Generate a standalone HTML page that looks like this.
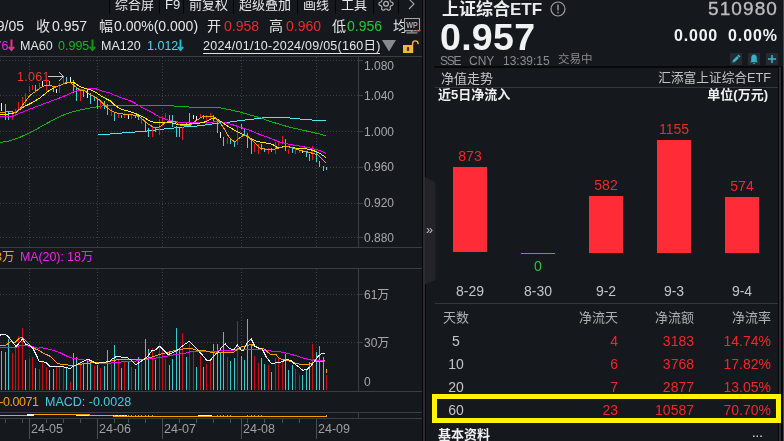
<!DOCTYPE html>
<html><head><meta charset="utf-8">
<style>
*{margin:0;padding:0;box-sizing:border-box}
html,body{width:784px;height:441px;overflow:hidden;background:#15181d}
body{position:relative;font-family:"Liberation Sans","Noto Sans CJK SC",sans-serif;color:#e6e6e6}
.t{position:absolute;white-space:nowrap;line-height:1}
.sep{position:absolute;width:1px;background:#050608}
svg{position:absolute;left:0;top:0}
.ar{font-family:"Noto Sans CJK SC",sans-serif;font-weight:bold;font-size:12px;-webkit-text-stroke:0.6px currentColor} .r{color:#f0282d} .g{color:#1ec83c}
</style></head><body>
<svg width="784" height="441" viewBox="0 0 784 441" shape-rendering="crispEdges">
<line x1="0" y1="60.5" x2="358" y2="60.5" stroke="#3c3f46" stroke-width="1" stroke-dasharray="1 2"/>
<line x1="358" y1="60.5" x2="363" y2="60.5" stroke="#3a3d43" stroke-width="1"/>
<line x1="0" y1="95.5" x2="358" y2="95.5" stroke="#3c3f46" stroke-width="1" stroke-dasharray="1 2"/>
<line x1="358" y1="95.5" x2="363" y2="95.5" stroke="#3a3d43" stroke-width="1"/>
<line x1="0" y1="131.5" x2="358" y2="131.5" stroke="#3c3f46" stroke-width="1" stroke-dasharray="1 2"/>
<line x1="358" y1="131.5" x2="363" y2="131.5" stroke="#3a3d43" stroke-width="1"/>
<line x1="0" y1="167.5" x2="358" y2="167.5" stroke="#3c3f46" stroke-width="1" stroke-dasharray="1 2"/>
<line x1="358" y1="167.5" x2="363" y2="167.5" stroke="#3a3d43" stroke-width="1"/>
<line x1="0" y1="203.5" x2="358" y2="203.5" stroke="#3c3f46" stroke-width="1" stroke-dasharray="1 2"/>
<line x1="358" y1="203.5" x2="363" y2="203.5" stroke="#3a3d43" stroke-width="1"/>
<line x1="0" y1="237.5" x2="358" y2="237.5" stroke="#3c3f46" stroke-width="1" stroke-dasharray="1 2"/>
<line x1="358" y1="237.5" x2="363" y2="237.5" stroke="#3a3d43" stroke-width="1"/>
<line x1="0" y1="294.5" x2="358" y2="294.5" stroke="#3c3f46" stroke-width="1" stroke-dasharray="1 2"/>
<line x1="358" y1="294.5" x2="363" y2="294.5" stroke="#3a3d43" stroke-width="1"/>
<line x1="0" y1="342.5" x2="358" y2="342.5" stroke="#3c3f46" stroke-width="1" stroke-dasharray="1 2"/>
<line x1="358" y1="342.5" x2="363" y2="342.5" stroke="#3a3d43" stroke-width="1"/>
<line x1="29.5" y1="57" x2="29.5" y2="247" stroke="#3c3f46" stroke-width="1" stroke-dasharray="1 2"/>
<line x1="29.5" y1="269" x2="29.5" y2="391" stroke="#3c3f46" stroke-width="1" stroke-dasharray="1 2"/>
<line x1="97.5" y1="57" x2="97.5" y2="247" stroke="#3c3f46" stroke-width="1" stroke-dasharray="1 2"/>
<line x1="97.5" y1="269" x2="97.5" y2="391" stroke="#3c3f46" stroke-width="1" stroke-dasharray="1 2"/>
<line x1="162.5" y1="57" x2="162.5" y2="247" stroke="#3c3f46" stroke-width="1" stroke-dasharray="1 2"/>
<line x1="162.5" y1="269" x2="162.5" y2="391" stroke="#3c3f46" stroke-width="1" stroke-dasharray="1 2"/>
<line x1="241.5" y1="57" x2="241.5" y2="247" stroke="#3c3f46" stroke-width="1" stroke-dasharray="1 2"/>
<line x1="241.5" y1="269" x2="241.5" y2="391" stroke="#3c3f46" stroke-width="1" stroke-dasharray="1 2"/>
<line x1="316.5" y1="57" x2="316.5" y2="247" stroke="#3c3f46" stroke-width="1" stroke-dasharray="1 2"/>
<line x1="316.5" y1="269" x2="316.5" y2="391" stroke="#3c3f46" stroke-width="1" stroke-dasharray="1 2"/>
<polyline points="97.6,134.6 110.0,134.0 115.0,133.7 120.0,133.2 130.0,132.4 140.0,131.6 150.0,130.8 160.0,129.5 170.0,128.4 180.0,127.3 190.0,126.6 200.0,125.7 208.0,124.5 215.0,123.6 220.0,122.8 230.0,122.0 240.0,120.6 250.0,119.5 260.0,118.2 270.0,117.3 280.0,117.3 290.0,118.0 300.0,119.0 310.0,119.9 320.0,120.4 326.0,120.4" fill="none" stroke="#50e6f0" stroke-width="1"/>
<polyline points="0.0,142.6 10.0,140.8 20.0,137.2 30.0,132.6 40.0,127.2 50.0,121.7 60.0,116.3 70.0,112.6 80.0,109.9 90.0,108.0 98.0,106.7 106.0,105.4 137.6,105.1 162.0,105.1 164.6,105.4 190.0,107.1 200.0,107.2 217.0,107.2 227.6,109.3 240.3,112.1 250.0,115.0 260.0,117.7 270.0,121.3 280.0,124.4 290.0,127.3 300.0,129.5 310.0,131.8 320.0,134.0 326.0,135.8" fill="none" stroke="#12b212" stroke-width="1"/>
<rect x="1" y="103" width="1" height="8" fill="#f0f0f0"/>
<rect x="5" y="104" width="1" height="16" fill="#3fd0dc"/>
<rect x="8" y="111" width="1" height="9" fill="#3fd0dc"/>
<rect x="12" y="114" width="1" height="6" fill="#e5161d"/>
<rect x="15" y="109" width="1" height="5" fill="#e5161d"/>
<rect x="18" y="102" width="1" height="9" fill="#e5161d"/>
<rect x="22" y="97" width="1" height="11" fill="#e5161d"/>
<rect x="25" y="93" width="1" height="12" fill="#e5161d"/>
<rect x="29" y="86" width="1" height="6" fill="#e5161d"/>
<rect x="32" y="85" width="1" height="5" fill="#e5161d"/>
<rect x="35" y="85" width="1" height="7" fill="#3fd0dc"/>
<rect x="39" y="83" width="1" height="6" fill="#e5161d"/>
<rect x="42" y="81" width="1" height="5" fill="#f0f0f0"/>
<rect x="46" y="81" width="1" height="10" fill="#e5161d"/>
<rect x="49" y="81" width="1" height="4" fill="#3fd0dc"/>
<rect x="53" y="86" width="1" height="6" fill="#3fd0dc"/>
<rect x="56" y="89" width="1" height="4" fill="#f0f0f0"/>
<rect x="59" y="83" width="1" height="10" fill="#e5161d"/>
<rect x="63" y="76" width="1" height="8" fill="#e5161d"/>
<rect x="66" y="77" width="1" height="5" fill="#3fd0dc"/>
<rect x="70" y="77" width="1" height="5" fill="#f0f0f0"/>
<rect x="73" y="80" width="1" height="13" fill="#3fd0dc"/>
<rect x="76" y="88" width="1" height="13" fill="#3fd0dc"/>
<rect x="80" y="89" width="1" height="12" fill="#e5161d"/>
<rect x="83" y="90" width="1" height="7" fill="#3fd0dc"/>
<rect x="87" y="90" width="1" height="8" fill="#f0f0f0"/>
<rect x="90" y="93" width="1" height="11" fill="#3fd0dc"/>
<rect x="94" y="96" width="1" height="5" fill="#3fd0dc"/>
<rect x="97" y="99" width="1" height="10" fill="#3fd0dc"/>
<rect x="100" y="100" width="1" height="9" fill="#e5161d"/>
<rect x="104" y="101" width="1" height="8" fill="#3fd0dc"/>
<rect x="107" y="104" width="1" height="11" fill="#3fd0dc"/>
<rect x="111" y="108" width="1" height="8" fill="#e5161d"/>
<rect x="114" y="112" width="1" height="9" fill="#3fd0dc"/>
<rect x="118" y="113" width="1" height="5" fill="#e5161d"/>
<rect x="121" y="115" width="1" height="3" fill="#3fd0dc"/>
<rect x="124" y="113" width="1" height="5" fill="#e5161d"/>
<rect x="128" y="114" width="1" height="5" fill="#f0f0f0"/>
<rect x="131" y="114" width="1" height="5" fill="#e5161d"/>
<rect x="135" y="115" width="1" height="3" fill="#3fd0dc"/>
<rect x="138" y="114" width="1" height="6" fill="#3fd0dc"/>
<rect x="141" y="117" width="1" height="7" fill="#e5161d"/>
<rect x="145" y="122" width="1" height="9" fill="#3fd0dc"/>
<rect x="148" y="128" width="1" height="9" fill="#3fd0dc"/>
<rect x="152" y="126" width="1" height="11" fill="#e5161d"/>
<rect x="155" y="128" width="1" height="4" fill="#3fd0dc"/>
<rect x="159" y="119" width="1" height="16" fill="#e5161d"/>
<rect x="162" y="116" width="1" height="10" fill="#e5161d"/>
<rect x="165" y="113" width="1" height="5" fill="#e5161d"/>
<rect x="169" y="115" width="1" height="5" fill="#3fd0dc"/>
<rect x="172" y="115" width="1" height="12" fill="#3fd0dc"/>
<rect x="176" y="126" width="1" height="11" fill="#3fd0dc"/>
<rect x="179" y="128" width="1" height="9" fill="#3fd0dc"/>
<rect x="182" y="127" width="1" height="13" fill="#e5161d"/>
<rect x="186" y="123" width="1" height="4" fill="#3fd0dc"/>
<rect x="189" y="113" width="1" height="11" fill="#3fd0dc"/>
<rect x="193" y="115" width="1" height="4" fill="#f0f0f0"/>
<rect x="196" y="116" width="1" height="4" fill="#f0f0f0"/>
<rect x="200" y="114" width="1" height="4" fill="#e5161d"/>
<rect x="203" y="115" width="1" height="4" fill="#3fd0dc"/>
<rect x="206" y="115" width="1" height="9" fill="#e5161d"/>
<rect x="210" y="113" width="1" height="6" fill="#e5161d"/>
<rect x="213" y="115" width="1" height="6" fill="#3fd0dc"/>
<rect x="217" y="120" width="1" height="13" fill="#3fd0dc"/>
<rect x="220" y="132" width="1" height="6" fill="#f0f0f0"/>
<rect x="223" y="137" width="1" height="9" fill="#3fd0dc"/>
<rect x="227" y="138" width="1" height="6" fill="#e5161d"/>
<rect x="230" y="139" width="1" height="5" fill="#3fd0dc"/>
<rect x="234" y="142" width="1" height="5" fill="#3fd0dc"/>
<rect x="237" y="127" width="1" height="18" fill="#e5161d"/>
<rect x="241" y="124" width="1" height="5" fill="#3fd0dc"/>
<rect x="244" y="129" width="1" height="7" fill="#3fd0dc"/>
<rect x="247" y="133" width="1" height="15" fill="#3fd0dc"/>
<rect x="251" y="141" width="1" height="13" fill="#3fd0dc"/>
<rect x="254" y="144" width="1" height="8" fill="#e5161d"/>
<rect x="258" y="144" width="1" height="10" fill="#e5161d"/>
<rect x="261" y="144" width="1" height="6" fill="#3fd0dc"/>
<rect x="264" y="148" width="1" height="4" fill="#3fd0dc"/>
<rect x="268" y="148" width="1" height="6" fill="#e5161d"/>
<rect x="271" y="148" width="1" height="4" fill="#3fd0dc"/>
<rect x="275" y="142" width="1" height="12" fill="#e5161d"/>
<rect x="278" y="142" width="1" height="4" fill="#e5161d"/>
<rect x="282" y="136" width="1" height="8" fill="#e5161d"/>
<rect x="285" y="139" width="1" height="12" fill="#3fd0dc"/>
<rect x="288" y="149" width="1" height="5" fill="#e5161d"/>
<rect x="292" y="148" width="1" height="5" fill="#3fd0dc"/>
<rect x="295" y="149" width="1" height="5" fill="#e5161d"/>
<rect x="299" y="150" width="1" height="3" fill="#e5161d"/>
<rect x="302" y="151" width="1" height="2" fill="#f0f0f0"/>
<rect x="306" y="152" width="1" height="5" fill="#3fd0dc"/>
<rect x="309" y="154" width="1" height="7" fill="#3fd0dc"/>
<rect x="312" y="146" width="1" height="14" fill="#e5161d"/>
<rect x="316" y="152" width="1" height="10" fill="#3fd0dc"/>
<rect x="319" y="161" width="1" height="6" fill="#3fd0dc"/>
<rect x="323" y="166" width="1" height="5" fill="#3fd0dc"/>
<rect x="326" y="167" width="1" height="3" fill="#3fd0dc"/>
<polyline points="0.0,116.8 11.9,116.8 15.9,114.8 23.8,111.6 31.7,108.4 47.6,102.4 63.5,96.5 74.6,91.3 85.7,88.6 94.8,88.3 99.5,90.3 109.0,92.7 120.2,97.5 129.7,100.6 136.0,103.8 144.0,108.6 153.5,113.3 159.8,117.3 169.4,120.5 178.9,122.1 190.0,122.5 200.0,122.3 210.0,122.1 220.0,121.8 227.0,123.1 232.0,124.5 240.0,127.2 250.0,130.4 260.0,134.6 270.0,138.2 280.0,142.2 290.0,144.4 300.0,146.2 310.0,148.0 320.0,150.4 326.0,153.4" fill="none" stroke="#f000f0" stroke-width="1"/>
<polyline points="0.0,114.5 10.0,113.9 15.9,112.4 23.8,106.8 31.7,102.9 39.7,98.1 47.6,91.7 52.4,88.6 63.5,83.8 69.8,82.2 74.6,83.0 80.0,86.6 85.0,88.5 90.0,89.6 95.0,91.8 100.0,95.2 105.0,98.2 110.0,100.7 115.0,105.4 120.0,108.6 125.0,110.2 130.0,111.7 135.0,113.3 140.0,115.7 145.0,118.1 150.0,121.0 155.0,122.5 160.0,122.9 165.0,122.5 170.0,122.5 175.0,123.7 180.0,124.9 185.0,124.9 190.0,124.0 195.0,123.5 200.0,123.0 205.4,121.8 211.0,119.0 214.0,118.2 218.1,119.6 222.0,122.2 228.0,126.4 236.0,131.0 244.8,135.4 249.5,137.8 255.9,141.0 262.2,142.5 268.6,143.3 273.3,144.9 278.1,148.1 282.9,146.8 289.2,146.8 295.6,148.1 303.5,148.6 309.8,149.4 316.2,151.6 321.0,154.1 325.7,157.3" fill="none" stroke="#f8f000" stroke-width="1"/>
<polyline points="0.0,112.6 10.0,111.4 15.0,112.6 20.0,109.0 25.0,101.8 30.0,95.4 35.0,91.8 40.0,88.1 45.0,85.4 50.0,85.4 55.0,87.2 60.0,85.4 65.0,83.0 70.0,82.3 75.0,86.3 80.0,90.0 85.0,90.9 90.0,94.5 95.0,96.9 100.0,100.3 105.0,105.4 110.0,110.2 115.0,112.5 120.0,113.8 125.0,114.1 130.0,114.6 135.0,115.2 140.0,116.8 145.0,121.6 150.0,125.2 155.0,128.1 160.0,126.8 165.0,122.9 170.0,121.0 175.0,121.6 180.0,125.2 185.0,125.7 190.0,125.4 195.0,121.3 200.0,118.2 203.0,116.3 210.0,116.3 214.0,116.8 217.0,119.5 220.0,122.7 225.0,130.0 228.0,135.6 231.4,139.4 234.5,141.8 236.8,140.4 240.2,137.3 244.3,135.0 248.0,136.7 252.7,141.0 255.0,143.1 260.0,148.0 265.0,149.1 270.0,149.4 275.0,149.1 280.0,147.6 285.0,146.7 290.0,147.1 296.8,149.4 301.3,150.5 305.9,151.6 312.7,153.3 317.2,154.5 320.6,157.9 325.7,162.4" fill="none" stroke="#f8a000" stroke-width="1"/>
<line x1="48" y1="76.5" x2="64" y2="76.5" stroke="#c8c8c8" stroke-width="1"/>
<polyline points="59,72 63.5,76.5 59,81" fill="none" stroke="#c8c8c8" stroke-width="1" shape-rendering="auto"/>
<rect x="1" y="351" width="1" height="39" fill="#3cc8d2"/>
<rect x="5" y="352" width="1" height="38" fill="#3cc8d2"/>
<rect x="8" y="339" width="1" height="51" fill="#3cc8d2"/>
<rect x="12" y="353" width="1" height="37" fill="#c80f14"/>
<rect x="15" y="348" width="1" height="42" fill="#c80f14"/>
<rect x="18" y="336" width="1" height="54" fill="#c80f14"/>
<rect x="22" y="328" width="1" height="62" fill="#c80f14"/>
<rect x="25" y="360" width="1" height="30" fill="#3cc8d2"/>
<rect x="29" y="358" width="1" height="32" fill="#c80f14"/>
<rect x="32" y="357" width="1" height="33" fill="#c80f14"/>
<rect x="35" y="368" width="1" height="22" fill="#3cc8d2"/>
<rect x="39" y="369" width="1" height="21" fill="#c80f14"/>
<rect x="42" y="362" width="1" height="28" fill="#c80f14"/>
<rect x="46" y="367" width="1" height="23" fill="#c80f14"/>
<rect x="49" y="370" width="1" height="20" fill="#3cc8d2"/>
<rect x="53" y="369" width="1" height="21" fill="#3cc8d2"/>
<rect x="56" y="366" width="1" height="24" fill="#c80f14"/>
<rect x="59" y="367" width="1" height="23" fill="#c80f14"/>
<rect x="63" y="366" width="1" height="24" fill="#c80f14"/>
<rect x="66" y="367" width="1" height="23" fill="#3cc8d2"/>
<rect x="70" y="382" width="1" height="8" fill="#c80f14"/>
<rect x="73" y="353" width="1" height="37" fill="#3cc8d2"/>
<rect x="76" y="357" width="1" height="33" fill="#3cc8d2"/>
<rect x="80" y="362" width="1" height="28" fill="#c80f14"/>
<rect x="83" y="364" width="1" height="26" fill="#3cc8d2"/>
<rect x="87" y="359" width="1" height="31" fill="#3cc8d2"/>
<rect x="90" y="360" width="1" height="30" fill="#3cc8d2"/>
<rect x="94" y="366" width="1" height="24" fill="#c80f14"/>
<rect x="97" y="365" width="1" height="25" fill="#3cc8d2"/>
<rect x="100" y="368" width="1" height="22" fill="#c80f14"/>
<rect x="104" y="366" width="1" height="24" fill="#3cc8d2"/>
<rect x="107" y="350" width="1" height="40" fill="#3cc8d2"/>
<rect x="111" y="364" width="1" height="26" fill="#c80f14"/>
<rect x="114" y="345" width="1" height="45" fill="#3cc8d2"/>
<rect x="118" y="359" width="1" height="31" fill="#c80f14"/>
<rect x="121" y="368" width="1" height="22" fill="#3cc8d2"/>
<rect x="124" y="362" width="1" height="28" fill="#c80f14"/>
<rect x="128" y="362" width="1" height="28" fill="#3cc8d2"/>
<rect x="131" y="367" width="1" height="23" fill="#c80f14"/>
<rect x="135" y="369" width="1" height="21" fill="#3cc8d2"/>
<rect x="138" y="357" width="1" height="33" fill="#3cc8d2"/>
<rect x="141" y="363" width="1" height="27" fill="#c80f14"/>
<rect x="145" y="339" width="1" height="51" fill="#3cc8d2"/>
<rect x="148" y="349" width="1" height="41" fill="#3cc8d2"/>
<rect x="152" y="348" width="1" height="42" fill="#c80f14"/>
<rect x="155" y="360" width="1" height="30" fill="#3cc8d2"/>
<rect x="159" y="342" width="1" height="48" fill="#c80f14"/>
<rect x="162" y="350" width="1" height="40" fill="#c80f14"/>
<rect x="165" y="359" width="1" height="31" fill="#c80f14"/>
<rect x="169" y="365" width="1" height="25" fill="#3cc8d2"/>
<rect x="172" y="359" width="1" height="31" fill="#3cc8d2"/>
<rect x="176" y="328" width="1" height="62" fill="#3cc8d2"/>
<rect x="179" y="348" width="1" height="42" fill="#3cc8d2"/>
<rect x="182" y="333" width="1" height="57" fill="#c80f14"/>
<rect x="186" y="357" width="1" height="33" fill="#3cc8d2"/>
<rect x="189" y="344" width="1" height="46" fill="#c80f14"/>
<rect x="193" y="352" width="1" height="38" fill="#c80f14"/>
<rect x="196" y="367" width="1" height="23" fill="#3cc8d2"/>
<rect x="200" y="356" width="1" height="34" fill="#c80f14"/>
<rect x="203" y="367" width="1" height="23" fill="#3cc8d2"/>
<rect x="206" y="364" width="1" height="26" fill="#c80f14"/>
<rect x="210" y="359" width="1" height="31" fill="#c80f14"/>
<rect x="213" y="344" width="1" height="46" fill="#3cc8d2"/>
<rect x="217" y="344" width="1" height="46" fill="#3cc8d2"/>
<rect x="220" y="353" width="1" height="37" fill="#3cc8d2"/>
<rect x="223" y="332" width="1" height="58" fill="#3cc8d2"/>
<rect x="227" y="357" width="1" height="33" fill="#c80f14"/>
<rect x="230" y="361" width="1" height="29" fill="#3cc8d2"/>
<rect x="234" y="358" width="1" height="32" fill="#3cc8d2"/>
<rect x="237" y="321" width="1" height="69" fill="#c80f14"/>
<rect x="241" y="356" width="1" height="34" fill="#3cc8d2"/>
<rect x="244" y="360" width="1" height="30" fill="#3cc8d2"/>
<rect x="247" y="319" width="1" height="71" fill="#3cc8d2"/>
<rect x="251" y="344" width="1" height="46" fill="#3cc8d2"/>
<rect x="254" y="356" width="1" height="34" fill="#c80f14"/>
<rect x="258" y="363" width="1" height="27" fill="#c80f14"/>
<rect x="261" y="358" width="1" height="32" fill="#3cc8d2"/>
<rect x="264" y="364" width="1" height="26" fill="#3cc8d2"/>
<rect x="268" y="365" width="1" height="25" fill="#c80f14"/>
<rect x="271" y="372" width="1" height="18" fill="#3cc8d2"/>
<rect x="275" y="358" width="1" height="32" fill="#c80f14"/>
<rect x="278" y="357" width="1" height="33" fill="#c80f14"/>
<rect x="282" y="362" width="1" height="28" fill="#c80f14"/>
<rect x="285" y="354" width="1" height="36" fill="#3cc8d2"/>
<rect x="288" y="370" width="1" height="20" fill="#3cc8d2"/>
<rect x="292" y="365" width="1" height="25" fill="#3cc8d2"/>
<rect x="295" y="369" width="1" height="21" fill="#c80f14"/>
<rect x="299" y="375" width="1" height="15" fill="#c80f14"/>
<rect x="302" y="375" width="1" height="15" fill="#3cc8d2"/>
<rect x="306" y="369" width="1" height="21" fill="#3cc8d2"/>
<rect x="309" y="362" width="1" height="28" fill="#3cc8d2"/>
<rect x="312" y="344" width="1" height="46" fill="#c80f14"/>
<rect x="316" y="352" width="1" height="38" fill="#3cc8d2"/>
<rect x="319" y="346" width="1" height="44" fill="#3cc8d2"/>
<rect x="323" y="357" width="1" height="33" fill="#3cc8d2"/>
<rect x="326" y="375" width="1" height="15" fill="#c80f14"/>
<rect x="326" y="369" width="1" height="4" fill="#f8a000"/>
<polyline points="0.0,347.4 15.9,347.4 20.4,345.6 23.8,345.6 28.3,346.0 32.9,346.5 37.4,348.2 42.0,347.7 46.5,348.8 50.0,349.4 60.0,352.7 66.5,356.0 73.0,358.4 79.6,359.2 86.0,360.5 92.7,362.4 100.0,363.8 106.0,363.8 112.0,362.8 120.0,362.1 128.7,361.1 136.0,361.1 141.0,359.8 150.6,358.7 160.0,357.4 168.0,356.1 175.4,354.6 182.9,353.7 190.3,351.8 197.7,351.3 208.0,351.5 215.0,351.3 224.4,350.0 233.7,350.0 244.0,349.7 251.2,349.4 258.6,349.4 269.7,350.9 276.0,351.3 283.4,352.4 290.9,354.2 298.3,356.5 305.7,358.7 312.0,360.2 314.9,359.8 318.6,360.6 325.0,361.1" fill="none" stroke="#f000f0" stroke-width="1"/>
<polyline points="0.0,345.4 5.7,345.4 8.5,343.1 11.3,341.4 14.7,342.6 18.7,338.6 22.1,336.9 24.9,339.7 28.9,343.7 32.9,347.7 36.3,349.4 39.7,350.5 43.1,353.3 46.5,354.5 50.0,356.2 57.8,363.8 64.0,364.5 73.0,365.7 79.6,364.4 86.0,363.3 92.7,362.8 104.0,362.8 112.0,360.8 119.0,359.5 127.0,359.5 136.0,360.0 141.3,359.8 150.6,357.4 160.0,354.2 168.0,352.4 175.4,350.5 182.9,349.0 190.3,348.1 195.9,350.0 204.0,350.5 215.0,353.1 224.4,352.4 233.7,352.4 237.5,349.0 240.0,347.2 247.4,345.3 251.2,344.4 258.6,348.1 264.2,349.0 270.7,354.6 276.0,354.6 279.7,358.7 287.2,360.2 294.6,363.0 302.0,364.8 307.4,364.8 312.0,363.0 314.9,361.7 318.6,362.0 325.0,360.6" fill="none" stroke="#f8a000" stroke-width="1"/>
<polyline points="0.0,335.2 2.3,334.1 5.1,334.6 7.9,336.3 11.3,340.3 15.9,346.5 18.7,343.7 22.7,338.8 25.5,344.3 29.5,345.4 32.9,348.2 36.3,355.0 39.1,361.3 43.1,361.8 46.5,363.0 50.0,366.4 56.0,366.0 60.0,366.5 66.5,367.3 70.0,368.7 73.0,366.5 79.6,363.3 87.8,359.2 92.7,361.6 96.0,363.3 104.0,362.4 109.0,361.6 113.0,358.4 117.0,356.2 122.0,357.2 127.0,357.6 131.0,360.0 135.7,364.8 141.3,361.1 146.9,357.4 152.4,350.0 155.2,350.0 159.5,346.2 163.6,350.0 168.0,354.6 171.7,353.1 176.4,350.9 181.0,347.2 184.7,344.4 189.4,341.2 194.0,346.2 198.7,350.9 203.3,356.1 206.8,360.6 210.5,360.2 214.2,355.5 218.0,352.8 221.7,347.2 225.4,344.0 229.0,348.1 233.7,350.0 237.5,345.0 241.2,350.0 243.7,350.0 247.4,342.5 251.2,338.8 254.9,346.2 258.6,348.1 262.3,349.0 266.0,356.5 271.6,363.9 275.3,363.0 279.7,362.4 283.4,361.1 287.2,359.3 290.9,360.6 294.6,363.9 298.3,366.7 303.0,370.4 307.4,369.1 311.2,365.8 314.9,360.6 317.7,356.8 321.4,353.7 325.0,353.7" fill="none" stroke="#f0f0f0" stroke-width="1"/>
<polyline points="0,415.5 27,415.5 27,414.5 89,414.5 89,415.5 113,415.5 113,416.5 327,416.5" fill="none" stroke="#f8a000" stroke-width="1"/>
<rect x="27" y="414" width="7" height="2" fill="#f0f0f0"/>
<rect x="76" y="414.5" width="13" height="1.5" fill="#f0f0f0"/>
<rect x="113" y="415" width="14" height="1" fill="#f0f0f0"/>
<rect x="198" y="415" width="14" height="1" fill="#f0f0f0"/>
<rect x="90" y="415" width="1" height="1" fill="#3fd0dc"/>
<rect x="94" y="415" width="1" height="1" fill="#3fd0dc"/>
<rect x="97" y="415" width="1" height="1" fill="#3fd0dc"/>
<rect x="100" y="415" width="1" height="1" fill="#3fd0dc"/>
<rect x="104" y="415" width="1" height="1" fill="#3fd0dc"/>
<rect x="107" y="415" width="1" height="1" fill="#3fd0dc"/>
<rect x="111" y="415" width="1" height="1" fill="#3fd0dc"/>
<rect x="114" y="415" width="1" height="1" fill="#3fd0dc"/>
<rect x="118" y="415" width="1" height="1" fill="#3fd0dc"/>
<rect x="121" y="415" width="1" height="1" fill="#3fd0dc"/>
<rect x="124" y="415" width="1" height="1" fill="#3fd0dc"/>
<rect x="128" y="415" width="1" height="1" fill="#3fd0dc"/>
<rect x="131" y="415" width="1" height="1" fill="#3fd0dc"/>
<rect x="135" y="415" width="1" height="1" fill="#3fd0dc"/>
<rect x="138" y="415" width="1" height="1" fill="#3fd0dc"/>
<rect x="141" y="415" width="1" height="1" fill="#3fd0dc"/>
<rect x="145" y="415" width="1" height="1" fill="#3fd0dc"/>
<rect x="148" y="415" width="1" height="1" fill="#3fd0dc"/>
<rect x="152" y="415" width="1" height="1" fill="#3fd0dc"/>
<rect x="217" y="415" width="1" height="1" fill="#3fd0dc"/>
<rect x="220" y="415" width="1" height="1" fill="#3fd0dc"/>
<rect x="223" y="415" width="1" height="1" fill="#3fd0dc"/>
<rect x="227" y="415" width="1" height="1" fill="#3fd0dc"/>
<rect x="230" y="415" width="1" height="1" fill="#3fd0dc"/>
<rect x="247" y="415" width="1" height="1" fill="#3fd0dc"/>
<rect x="251" y="415" width="1" height="1" fill="#3fd0dc"/>
<rect x="254" y="415" width="1" height="1" fill="#3fd0dc"/>
<rect x="258" y="415" width="1" height="1" fill="#3fd0dc"/>
<rect x="261" y="415" width="1" height="1" fill="#3fd0dc"/>
<rect x="326" y="415" width="1" height="1" fill="#3fd0dc"/>
<line x1="358.5" y1="57" x2="358.5" y2="247" stroke="#3a3d43"/>
<line x1="358.5" y1="269" x2="358.5" y2="391" stroke="#3a3d43"/>
<line x1="358.5" y1="412" x2="358.5" y2="418" stroke="#3a3d43"/>
<line x1="0" y1="56.5" x2="422" y2="56.5" stroke="#3a3d43"/>
<line x1="0" y1="247.5" x2="422" y2="247.5" stroke="#3a3d43"/>
<line x1="0" y1="268.5" x2="422" y2="268.5" stroke="#3a3d43"/>
<line x1="0" y1="391.5" x2="422" y2="391.5" stroke="#3a3d43"/>
<line x1="0" y1="412.5" x2="422" y2="412.5" stroke="#3a3d43"/>
<line x1="0" y1="418.5" x2="422" y2="418.5" stroke="#3a3d43"/>
<line x1="5.5" y1="419" x2="5.5" y2="423" stroke="#4a4d54"/>
<line x1="22.5" y1="419" x2="22.5" y2="423" stroke="#4a4d54"/>
<line x1="46.5" y1="419" x2="46.5" y2="423" stroke="#4a4d54"/>
<line x1="63.5" y1="419" x2="63.5" y2="423" stroke="#4a4d54"/>
<line x1="80.5" y1="419" x2="80.5" y2="423" stroke="#4a4d54"/>
<line x1="114.5" y1="419" x2="114.5" y2="423" stroke="#4a4d54"/>
<line x1="128.5" y1="419" x2="128.5" y2="423" stroke="#4a4d54"/>
<line x1="145.5" y1="419" x2="145.5" y2="423" stroke="#4a4d54"/>
<line x1="179.5" y1="419" x2="179.5" y2="423" stroke="#4a4d54"/>
<line x1="196.5" y1="419" x2="196.5" y2="423" stroke="#4a4d54"/>
<line x1="213.5" y1="419" x2="213.5" y2="423" stroke="#4a4d54"/>
<line x1="230.5" y1="419" x2="230.5" y2="423" stroke="#4a4d54"/>
<line x1="247.5" y1="419" x2="247.5" y2="423" stroke="#4a4d54"/>
<line x1="264.5" y1="419" x2="264.5" y2="423" stroke="#4a4d54"/>
<line x1="282.5" y1="419" x2="282.5" y2="423" stroke="#4a4d54"/>
<line x1="299.5" y1="419" x2="299.5" y2="423" stroke="#4a4d54"/>
<line x1="29.5" y1="419" x2="29.5" y2="439" stroke="#4a4d54"/>
<line x1="97.5" y1="419" x2="97.5" y2="439" stroke="#4a4d54"/>
<line x1="162.5" y1="419" x2="162.5" y2="439" stroke="#4a4d54"/>
<line x1="241.5" y1="419" x2="241.5" y2="439" stroke="#4a4d54"/>
<line x1="316.5" y1="419" x2="316.5" y2="439" stroke="#4a4d54"/>
</svg>
<!-- toolbar -->
<div class="sep" style="left:109px;top:0;height:14px"></div>
<div class="sep" style="left:159px;top:0;height:14px"></div>
<div class="sep" style="left:183px;top:0;height:14px"></div>
<div class="sep" style="left:233px;top:0;height:14px"></div>
<div class="sep" style="left:297px;top:0;height:14px"></div>
<div class="sep" style="left:335px;top:0;height:14px"></div>
<div class="sep" style="left:373px;top:0;height:14px"></div>
<div class="sep" style="left:398px;top:0;height:14px"></div>
<div class="t" style="left:115px;top:-2px;font-size:13px">综合屏</div>
<div class="t" style="left:165px;top:-2px;font-size:13px">F9</div>
<div class="t" style="left:189px;top:-2px;font-size:13px">前复权</div>
<div class="t" style="left:239px;top:-2px;font-size:13px">超级叠加</div>
<div class="t" style="left:303px;top:-2px;font-size:13px">画线</div>
<div class="t" style="left:341px;top:-2px;font-size:13px">工具</div>

<!-- toolbar icons -->
<svg width="20" height="14" style="left:377px;top:0" viewBox="0 0 20 14"><polygon points="16.00,3.80 15.97,4.41 15.72,4.98 14.89,5.38 14.06,5.64 13.71,6.00 13.50,6.40 13.26,6.78 13.12,7.26 13.31,8.11 13.38,9.02 13.02,9.53 12.50,9.86 11.96,10.14 11.33,10.21 10.58,9.69 9.93,9.10 9.45,8.98 9.00,9.00 8.55,8.98 8.07,9.10 7.42,9.69 6.67,10.21 6.04,10.14 5.50,9.86 4.98,9.53 4.62,9.02 4.69,8.11 4.88,7.26 4.74,6.78 4.50,6.40 4.29,6.00 3.94,5.64 3.11,5.38 2.28,4.98 2.03,4.41 2.00,3.80 2.03,3.19 2.28,2.62 3.11,2.22 3.94,1.96 4.29,1.60 4.50,1.20 4.74,0.82 4.88,0.34 4.69,-0.51 4.62,-1.42 4.98,-1.93 5.50,-2.26 6.04,-2.54 6.67,-2.61 7.42,-2.09 8.07,-1.50 8.55,-1.38 9.00,-1.40 9.45,-1.38 9.93,-1.50 10.58,-2.09 11.33,-2.61 11.96,-2.54 12.50,-2.26 13.02,-1.93 13.38,-1.42 13.31,-0.51 13.12,0.34 13.26,0.82 13.50,1.20 13.71,1.60 14.06,1.96 14.89,2.22 15.72,2.62 15.97,3.19" fill="none" stroke="#b0b0b0" stroke-width="1.2" stroke-linejoin="round"/><circle cx="9.0" cy="3.8" r="2.4" fill="none" stroke="#b0b0b0" stroke-width="1.3"/></svg>
<svg width="10" height="12" style="left:407px;top:0" viewBox="0 0 10 12"><polyline points="2,-1 7,4 2,9" fill="none" stroke="#a8a8a8" stroke-width="1.1"/></svg>
<!-- WP icon -->
<svg width="18" height="17" style="left:404px;top:17.5px;z-index:2" viewBox="0 0 18 17"><rect x="0.5" y="0.5" width="15" height="12" fill="#15181d" stroke="#a4a4a4" stroke-width="1.1"/><text x="8" y="10" font-family="Liberation Sans" font-weight="bold" font-size="8.2" textLength="11.5" lengthAdjust="spacingAndGlyphs" fill="#a8a8a8" text-anchor="middle">WP</text><rect x="0" y="12" width="16" height="1.3" fill="#9c9c9c"/><rect x="6.8" y="13" width="1.6" height="1.5" fill="#9c9c9c"/><rect x="2.5" y="14.3" width="11" height="1.2" fill="#9c9c9c"/><rect x="9" y="12.3" width="1.5" height="1.2" fill="#e02020"/><rect x="12.2" y="12.3" width="1.5" height="1.2" fill="#e02020"/><rect x="15.3" y="11.8" width="1.5" height="1.4" fill="#e02020"/></svg>
<!-- dropdown + lock -->
<svg width="16" height="13" style="left:381px;top:39px" viewBox="0 0 16 13"><polygon points="1,1 15,1 8,12.4" fill="#8a8a8a"/></svg>
<svg width="18" height="15" style="left:402px;top:39px" viewBox="0 0 18 15"><path d="M10.6,6 L10.6,4.6 A2.75,2.75 0 0 1 16.1,4.6 L16.1,5.2" fill="none" stroke="#f2b63e" stroke-width="1.4"/><rect x="1" y="6" width="10.2" height="8" fill="#f2b63e"/><rect x="4.9" y="8" width="2.3" height="4" rx="0.8" fill="#4a3a12"/></svg>
<!-- row2 -->
<div class="t" style="right:760px;top:19px;font-size:14px">2024/09/05</div>
<div class="t" style="left:36px;top:19px;font-size:14px">收</div>
<div class="t" style="left:52px;top:19px;font-size:14px">0.957</div>
<div class="t" style="left:99px;top:19px;font-size:14px">幅</div>
<div class="t" style="left:114px;top:19px;font-size:14px">0.00%(0.000)</div>
<div class="t" style="left:207px;top:19px;font-size:14px">开</div>
<div class="t r" style="left:224px;top:19px;font-size:14px">0.958</div>
<div class="t" style="left:269px;top:19px;font-size:14px">高</div>
<div class="t r" style="left:286px;top:19px;font-size:14px">0.960</div>
<div class="t" style="left:332px;top:19px;font-size:14px">低</div>
<div class="t g" style="left:347px;top:19px;font-size:14px">0.956</div>
<div class="t" style="left:393px;top:19px;font-size:14px">均</div>
<!-- row3 -->
<div class="t" style="right:775.5px;top:40px;font-size:12.5px;color:#f020f0">MA20 0.976</div>
<div class="t ar" style="left:5.5px;top:38.5px;color:#ff2a8a">↓</div>
<div class="t" style="left:20px;top:40px;font-size:12.5px">MA60</div>
<div class="t" style="left:58px;top:40px;font-size:12.5px;color:#16b816">0.995</div>
<div class="t ar" style="left:86.5px;top:38.5px;color:#0e9a0e">↓</div>
<div class="t" style="left:101px;top:40px;font-size:12.5px">MA120</div>
<div class="t" style="left:147px;top:40px;font-size:12.5px;color:#48d8e8">1.012</div>
<div class="t ar" style="left:174.5px;top:38.5px;color:#2ab8c8">↓</div>
<div class="t" style="left:203px;top:40px;font-size:12.5px;letter-spacing:0.25px">2024/01/10-2024/09/05(160日)</div><div style="position:absolute;left:203px;top:53px;width:177px;height:1px;background:#e0e0e0"></div>
<!-- price axis -->
<div class="t" style="left:364px;top:60px;font-size:12px;color:#a8a8a8">1.080</div>
<div class="t" style="left:364px;top:90px;font-size:12px;color:#a8a8a8">1.040</div>
<div class="t" style="left:364px;top:126px;font-size:12px;color:#a8a8a8">1.000</div>
<div class="t" style="left:364px;top:161px;font-size:12px;color:#a8a8a8">0.960</div>
<div class="t" style="left:364px;top:197px;font-size:12px;color:#a8a8a8">0.920</div>
<div class="t" style="left:364px;top:232px;font-size:12px;color:#a8a8a8">0.880</div>
<div class="t" style="left:364px;top:289px;font-size:12px;color:#a8a8a8">61万</div>
<div class="t" style="left:364px;top:337px;font-size:12px;color:#a8a8a8">30万</div>
<div class="t" style="left:364px;top:376px;font-size:12px;color:#a8a8a8">0</div>
<div class="t" style="left:17px;top:71px;font-size:12.5px;letter-spacing:0.3px;color:#ee3434">1.061</div>
<!-- volume header -->
<div class="t" style="right:769.5px;top:251px;font-size:12.5px;color:#f0a020">MA(5): 13万</div>
<div class="t" style="left:20px;top:251px;font-size:12.5px;letter-spacing:-0.1px;color:#f020f0">MA(20): 18万</div>
<!-- macd header -->
<div class="t" style="right:745.5px;top:396px;font-size:12.5px;letter-spacing:-0.45px;color:#f5a010">DEA: -0.0071</div>
<div class="t" style="left:45px;top:396px;font-size:12.5px;color:#3ad0e0">MACD: -0.0028</div>
<!-- dates -->
<div class="t" style="left:31px;top:423px;font-size:12.5px;color:#a0a0a0">24-05</div>
<div class="t" style="left:99px;top:423px;font-size:12.5px;color:#a0a0a0">24-06</div>
<div class="t" style="left:164px;top:423px;font-size:12.5px;color:#a0a0a0">24-07</div>
<div class="t" style="left:243px;top:423px;font-size:12.5px;color:#a0a0a0">24-08</div>
<div class="t" style="left:318px;top:423px;font-size:12.5px;color:#a0a0a0">24-09</div>

<!-- divider -->
<div style="position:absolute;left:422px;top:0;width:1px;height:441px;background:#050608"></div>
<div style="position:absolute;left:423px;top:0;width:2px;height:441px;background:#2c2c32"></div>
<div style="position:absolute;left:425px;top:0;width:1px;height:441px;background:#050608"></div>
<svg width="12" height="110" style="left:425px;top:176px" viewBox="0 0 12 110"><polygon points="0,1 10.5,6 10.5,104 0,108.5" fill="#232328"/></svg>
<div class="t" style="left:426px;top:224px;font-size:12.5px;color:#c0c0c0">»</div>
<!-- right panel -->
<div class="t" style="left:442px;top:1px;font-size:17px;font-weight:bold;color:#ececec">上证综合ETF</div>
<svg width="16" height="16" style="left:550px;top:1px" viewBox="0 0 16 16"><circle cx="8" cy="8" r="7" fill="none" stroke="#a0a0a0" stroke-width="1.2"/><rect x="7.3" y="3.5" width="1.4" height="6" fill="#a0a0a0"/><rect x="7.3" y="10.8" width="1.4" height="1.5" fill="#a0a0a0"/></svg>
<div class="t" style="right:6px;top:-1px;font-size:19px;letter-spacing:1.1px;color:#bcbcbc;-webkit-text-stroke:0.35px #bcbcbc">510980</div>
<div class="t" style="left:440px;top:18.8px;font-size:37.5px;letter-spacing:0.3px;font-weight:bold;color:#f2f2f2">0.957</div>
<div class="t" style="left:674px;top:28px;font-size:16px;letter-spacing:0.8px;font-weight:bold;color:#f2f2f2">0.000</div><div class="t" style="left:728px;top:28px;font-size:16px;letter-spacing:0.9px;font-weight:bold;color:#f2f2f2">0.00%</div>
<div class="t" style="left:440px;top:54.5px;font-size:12px;letter-spacing:-1.2px;color:#8c8c8c">SSE</div><div class="t" style="left:469px;top:54.5px;font-size:12px;color:#8c8c8c">CNY</div><div class="t" style="left:503px;top:54.5px;font-size:12px;color:#8c8c8c">13:39:15</div><div class="t" style="left:558px;top:54px;font-size:11.5px;color:#8c8c8c">交易中</div>
<div style="position:absolute;left:730px;top:53px;width:12px;height:12px;background:#262a30"></div>
<div style="position:absolute;left:748px;top:53px;width:12px;height:12px;background:#262a30"></div>
<div style="position:absolute;left:766px;top:53px;width:12px;height:12px;background:#262a30"></div>
<svg width="12" height="12" style="left:730px;top:53px" viewBox="0 0 12 12"><g transform="rotate(45 6 6)"><rect x="4.7" y="3.2" width="2.6" height="6.2" fill="#38b8cc"/><polygon points="4.7,9.4 7.3,9.4 6,11" fill="#38b8cc"/><rect x="4.7" y="1" width="2.6" height="1.6" fill="#38b8cc"/></g></svg>
<svg width="12" height="12" style="left:748px;top:53px" viewBox="0 0 12 12"><path d="M6,1.5 C3.8,1.5 3.2,3.5 3.2,5.5 L3.2,8 L2,9.3 L10,9.3 L8.8,8 L8.8,5.5 C8.8,3.5 8.2,1.5 6,1.5 Z M5,10 L7,10 L6.5,11 L5.5,11 Z" fill="#38b0c8"/></svg>
<svg width="12" height="12" style="left:766px;top:53px" viewBox="0 0 12 12"><rect x="5.2" y="2" width="1.6" height="8" fill="#38b0c8"/><rect x="2" y="5.2" width="8" height="1.6" fill="#38b0c8"/></svg>
<div style="position:absolute;left:434px;top:66px;width:348px;height:2px;background:#07080a"></div>
<div style="position:absolute;left:778px;top:67px;width:1px;height:374px;background:#07080a"></div>
<div style="position:absolute;left:779px;top:67px;width:2px;height:374px;background:#2c2c32"></div>
<div style="position:absolute;left:781px;top:67px;width:2px;height:374px;background:#07080a"></div>
<div style="position:absolute;left:783px;top:0px;width:1px;height:441px;background:#45474d"></div>
<div class="t" style="left:441px;top:72px;font-size:13px;color:#c4c4c4">净值走势</div>
<div class="t" style="right:13px;top:72px;font-size:12.7px;color:#c4c4c4">汇添富上证综合ETF</div>
<div style="position:absolute;left:435px;top:87px;width:343px;height:1px;background:#33363c"></div>
<div class="t" style="left:438px;top:88px;font-size:13px;font-weight:bold;color:#f0f0f0">近5日净流入</div>
<div class="t" style="right:16px;top:88px;font-size:13px;font-weight:bold;color:#f0f0f0">单位(万元)</div>
<!-- bars -->
<div style="position:absolute;left:453px;top:167px;width:34px;height:85px;background:#ff2b37"></div>
<div style="position:absolute;left:521px;top:253px;width:34px;height:1px;background:#1ec83c"></div>
<div style="position:absolute;left:589px;top:196px;width:34px;height:57px;background:#ff2b37"></div>
<div style="position:absolute;left:657px;top:140px;width:34px;height:113px;background:#ff2b37"></div>
<div style="position:absolute;left:725px;top:197px;width:34px;height:56px;background:#ff2b37"></div>
<div class="t r" style="left:453px;width:34px;text-align:center;top:149px;font-size:14px">873</div>
<div class="t g" style="left:521px;width:34px;text-align:center;top:259px;font-size:14px">0</div>
<div class="t r" style="left:589px;width:34px;text-align:center;top:178px;font-size:14px">582</div>
<div class="t r" style="left:657px;width:34px;text-align:center;top:122px;font-size:14px">1155</div>
<div class="t r" style="left:725px;width:34px;text-align:center;top:179px;font-size:14px">574</div>
<div class="t" style="left:445px;width:50px;text-align:center;top:284px;font-size:14px;color:#c4c4c4">8-29</div>
<div class="t" style="left:513px;width:50px;text-align:center;top:284px;font-size:14px;color:#c4c4c4">8-30</div>
<div class="t" style="left:581px;width:50px;text-align:center;top:284px;font-size:14px;color:#c4c4c4">9-2</div>
<div class="t" style="left:649px;width:50px;text-align:center;top:284px;font-size:14px;color:#c4c4c4">9-3</div>
<div class="t" style="left:717px;width:50px;text-align:center;top:284px;font-size:14px;color:#c4c4c4">9-4</div>
<div style="position:absolute;left:435px;top:303px;width:343px;height:1px;background:#33363c"></div>
<!-- table -->
<div class="t" style="left:436px;width:40px;text-align:center;top:311px;font-size:13px;color:#b0b0b0">天数</div>
<div class="t" style="right:166px;top:311px;font-size:13px;color:#b0b0b0">净流天</div>
<div class="t" style="right:90px;top:311px;font-size:13px;color:#b0b0b0">净流额</div>
<div class="t" style="right:13px;top:311px;font-size:13px;color:#b0b0b0">净流率</div>
<div class="t" style="left:436px;width:40px;text-align:center;top:334px;font-size:14px;color:#c4c4c4">5</div>
<div class="t" style="left:436px;width:40px;text-align:center;top:357px;font-size:14px;color:#c4c4c4">10</div>
<div class="t" style="left:436px;width:40px;text-align:center;top:380px;font-size:14px;color:#c4c4c4">20</div>
<div class="t" style="left:436px;width:40px;text-align:center;top:403px;font-size:14px;color:#c4c4c4">60</div>
<div class="t r" style="right:166px;top:334px;font-size:14px">4</div>
<div class="t r" style="right:166px;top:357px;font-size:14px">6</div>
<div class="t r" style="right:166px;top:380px;font-size:14px">7</div>
<div class="t r" style="right:166px;top:403px;font-size:14px">23</div>
<div class="t r" style="right:90px;top:334px;font-size:14px">3183</div>
<div class="t r" style="right:90px;top:357px;font-size:14px">3768</div>
<div class="t r" style="right:90px;top:380px;font-size:14px">2877</div>
<div class="t r" style="right:90px;top:403px;font-size:14px">10587</div>
<div class="t r" style="right:13px;top:334px;font-size:14px">14.74%</div>
<div class="t r" style="right:13px;top:357px;font-size:14px">17.82%</div>
<div class="t r" style="right:13px;top:380px;font-size:14px">13.05%</div>
<div class="t r" style="right:13px;top:403px;font-size:14px">70.70%</div>
<div style="position:absolute;left:432px;top:394px;width:349px;height:29px;border:5px solid #fff500"></div>
<div class="t" style="left:438px;top:428px;font-size:13px;font-weight:bold;color:#f0f0f0">基本资料</div>
<div class="t" style="left:752px;top:426px;font-size:13px;color:#e0e0e0">...</div>
</body></html>
